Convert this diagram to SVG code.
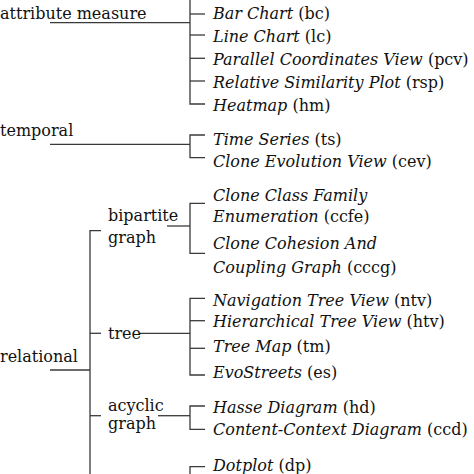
<svg xmlns="http://www.w3.org/2000/svg" width="474" height="474" viewBox="0 0 474 474">
<style>
text{font-family:"DejaVu Serif","Liberation Serif",serif;font-size:16px;fill:#111}
.i{font-style:italic}
.c line,.c polyline{stroke:#3a3a3a;stroke-width:1.3;fill:none}
</style>
<rect width="474" height="474" fill="#fff"/>
<g class="c" id="connectors">
<line x1="50" y1="22.7" x2="190" y2="22.7"/>
<polyline points="190,0 190,104 205,104"/>
<line x1="190" y1="14" x2="205" y2="14"/>
<line x1="190" y1="35" x2="205" y2="35"/>
<line x1="190" y1="58.3" x2="205" y2="58.3"/>
<line x1="190" y1="81" x2="205" y2="81"/>
<line x1="50" y1="144.3" x2="190" y2="144.3"/>
<polyline points="205,135 190,135 190,157.7 205,157.7"/>
<line x1="50" y1="370" x2="90" y2="370"/>
<polyline points="101,230.7 90,230.7 90,474"/>
<line x1="90" y1="333.3" x2="101" y2="333.3"/>
<line x1="90" y1="415.7" x2="101" y2="415.7"/>
<line x1="167" y1="226" x2="190" y2="226"/>
<polyline points="205,203.3 190,203.3 190,253.3 205,253.3"/>
<line x1="140" y1="333.3" x2="190" y2="333.3"/>
<polyline points="205,298.3 190,298.3 190,375 205,375"/>
<line x1="190" y1="320.7" x2="205" y2="320.7"/>
<line x1="190" y1="348.3" x2="205" y2="348.3"/>
<line x1="158" y1="415.7" x2="190" y2="415.7"/>
<polyline points="205,406 190,406 190,429.3 205,429.3"/>
<polyline points="205,466.7 190,466.7 190,474"/>
</g>
<g id="attribute-measure"><text x="0" y="18.5">attribute measure</text></g>
<g id="temporal"><text x="0" y="136">temporal</text></g>
<g id="relational"><text x="0" y="361.7">relational</text></g>
<g id="bipartite-graph"><text x="108" y="221">bipartite</text><text x="108" y="243">graph</text></g>
<g id="tree"><text x="108" y="339.3">tree</text></g>
<g id="acyclic-graph"><text x="108" y="411">acyclic</text><text x="108" y="428.5">graph</text></g>
<g id="bc"><text x="213" y="19"><tspan class="i">Bar Chart</tspan> (bc)</text></g>
<g id="lc"><text x="213" y="41.7"><tspan class="i">Line Chart</tspan> (lc)</text></g>
<g id="pcv"><text x="213" y="65"><tspan class="i">Parallel Coordinates View</tspan> (pcv)</text></g>
<g id="rsp"><text x="213" y="88.3"><tspan class="i">Relative Similarity Plot</tspan> (rsp)</text></g>
<g id="hm"><text x="213" y="111.3"><tspan class="i">Heatmap</tspan> (hm)</text></g>
<g id="ts"><text x="213" y="145"><tspan class="i">Time Series</tspan> (ts)</text></g>
<g id="cev"><text x="213" y="166.5"><tspan class="i">Clone Evolution View</tspan> (cev)</text></g>
<g id="ccfe"><text x="213" y="200.7" class="i">Clone Class Family</text><text x="213" y="221.7"><tspan class="i">Enumeration</tspan> (ccfe)</text></g>
<g id="cccg"><text x="213" y="249.3" class="i">Clone Cohesion And</text><text x="213" y="272.7"><tspan class="i">Coupling Graph</tspan> (cccg)</text></g>
<g id="ntv"><text x="213" y="306"><tspan class="i">Navigation Tree View</tspan> (ntv)</text></g>
<g id="htv"><text x="213" y="327"><tspan class="i">Hierarchical Tree View</tspan> (htv)</text></g>
<g id="tm"><text x="213" y="351.5"><tspan class="i">Tree Map</tspan> (tm)</text></g>
<g id="es"><text x="213" y="377.5"><tspan class="i">EvoStreets</tspan> (es)</text></g>
<g id="hd"><text x="213" y="413.3"><tspan class="i">Hasse Diagram</tspan> (hd)</text></g>
<g id="ccd"><text x="213" y="435"><tspan class="i">Content-Context Diagram</tspan> (ccd)</text></g>
<g id="dp"><text x="213" y="470.7"><tspan class="i">Dotplot</tspan> (dp)</text></g>
</svg>
